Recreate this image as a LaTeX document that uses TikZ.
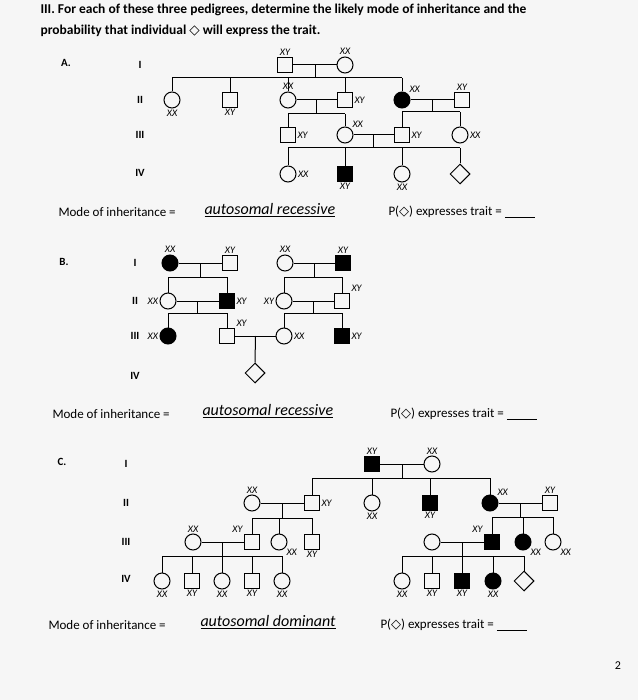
\documentclass[tikz,border=0pt]{standalone}
\usepackage{fontspec}
\setmainfont{Carlito}
\usetikzlibrary{shapes.geometric,calc}
\newcommand\famline[6]{%
 \draw (#1) -- (#2);
 \coordinate (mid) at ($(#1)!0.5!(#2)$);
 \draw (mid) -- (mid |- 0,#3);
 \draw (#4.north |- 0,#3) -- (#5.north |- 0,#3);
 \foreach \c in {#6} \draw (\c.north) -- (\c.north |- 0,#3);
}
\newcommand\dia{{\fontspec{DejaVu Sans}◇}}
\begin{document}
\begin{tikzpicture}[x=1pt,y=-1pt,line width=1pt,
 male/.style={draw,rectangle,minimum size=15pt,inner sep=0pt},
 fem/.style={draw,circle,minimum size=16pt,inner sep=0pt},
 unk/.style={draw,diamond,minimum size=20pt,inner sep=0pt},
 aff/.style={fill=black},
 lab/.style={font=\itshape\fontsize{10}{11}\selectfont,inner sep=1pt},
 gen/.style={font=\bfseries\fontsize{11}{12}\selectfont},
 txt/.style={font=\fontsize{13}{15}\selectfont,anchor=west,inner sep=0pt},
 hand/.style={font=\itshape\fontsize{16}{18}\selectfont,anchor=west,inner sep=0pt}]
\fill[white!93!gray] (0,0) rectangle (638,700);
\useasboundingbox (0,0) rectangle (638,700);
\node[txt,font=\bfseries\fontsize{13.5}{15}\selectfont] (t1) at (40,10) {III. For each of these three pedigrees, determine the likely mode of inheritance and the};
\node[txt,font=\bfseries\fontsize{13.5}{15}\selectfont] (t2) at (40,31) {probability that individual \dia\ will express the trait.};
% ---------- A
\node[gen] (lA) at (66,63) {A.};
\foreach \g/\y in {I/65,II/100,III/135,IV/173} \node[gen] (gA\g) at (140,\y) {\g};
\node[male,label={[lab]above:XY}] (a1) at (285,65) {};
\node[fem,label={[lab]above:XX}] (a2) at (345,65) {};
\node[fem,label={[lab]below:XX}] (a3) at (172,100) {};
\node[male,label={[lab]below:XY}] (a4) at (230,100) {};
\node[fem,label={[lab]above:XX}] (a5) at (288,100) {};
\node[male,label={[lab]right:XY}] (a6) at (345,100) {};
\node[fem,aff,label={[lab]above right:XX}] (a7) at (402,100) {};
\node[male,label={[lab]above:XY}] (a8) at (462,100) {};
\node[male,label={[lab]right:XY}] (a9) at (288,135) {};
\node[fem,label={[lab]above right:XX}] (a10) at (345,135) {};
\node[male,label={[lab]right:XY}] (a11) at (402,135) {};
\node[fem,label={[lab]right:XX}] (a12) at (460,135) {};
\node[fem,label={[lab]right:XX}] (a13) at (288,174) {};
\node[male,aff,label={[lab]below:XY}] (a14) at (345,174) {};
\node[fem,label={[lab]below:XX}] (a15) at (402,174) {};
\node[unk] (a16) at (460,174) {};
\famline{a1}{a2}{78}{a3}{a7}{a3,a4,a5,a6,a7}
\famline{a5}{a6}{114}{a9}{a10}{a9,a10}
\famline{a7}{a8}{112}{a11}{a12}{a11,a12}
\famline{a10}{a11}{148}{a13}{a16}{a13,a14,a15,a16}
\node[txt] (mA) at (58,212) {Mode of inheritance =};
\node[hand] (hA) at (204,210) {\underline{autosomal recessive}};
\node[txt] (pA) at (388,212) {P(\dia) expresses trait = \underline{\hspace{30pt}}};
% ---------- B
\node[gen] (lB) at (64,262) {B.};
\foreach \g/\y in {I/263,II/301,III/336,IV/376} \node[gen] (gB\g) at (135,\y) {\g};
\node[fem,aff,label={[lab]above:XX}] (b1) at (170,263) {};
\node[male,label={[lab]above:XY}] (b2) at (230,263) {};
\node[fem,label={[lab]above:XX}] (b3) at (285,263) {};
\node[male,aff,label={[lab]above:XY}] (b4) at (343,263) {};
\node[fem,label={[lab]left:XX}] (b5) at (168,301) {};
\node[male,aff,label={[lab]right:XY}] (b6) at (227,301) {};
\node[fem,label={[lab]left:XY}] (b7) at (284,301) {};
\node[male,label={[lab]above right:XY}] (b8) at (342,301) {};
\node[fem,aff,label={[lab]left:XX}] (b9) at (168,336) {};
\node[male,label={[lab]above right:XY}] (b10) at (227,336) {};
\node[fem,label={[lab]right:XX}] (b11) at (284,336) {};
\node[male,aff,label={[lab]right:XY}] (b12) at (342,336) {};
\node[unk] (b13) at (255,373) {};
\famline{b1}{b2}{277}{b5}{b6}{b5,b6}
\famline{b3}{b4}{277}{b7}{b8}{b7,b8}
\famline{b5}{b6}{313}{b9}{b10}{b9,b10}
\famline{b7}{b8}{313}{b11}{b12}{b11,b12}
\draw (b10) -- (b11);
\draw ($(b10)!0.5!(b11)$) -- (b13.north);
\node[txt] (mB) at (52,414) {Mode of inheritance =};
\node[hand] (hB) at (202,411) {\underline{autosomal recessive}};
\node[txt] (pB) at (390,414) {P(\dia) expresses trait = \underline{\hspace{30pt}}};
% ---------- C
\node[gen] (lC) at (62,462) {C.};
\foreach \g/\y in {I/464,II/503,III/542,IV/579} \node[gen] (gC\g) at (126,\y) {\g};
\node[male,aff,label={[lab]above:XY}] (c1) at (372,464) {};
\node[fem,label={[lab]above:XX}] (c2) at (432,464) {};
\node[fem,label={[lab]above:XX}] (c3) at (252,503) {};
\node[male,label={[lab]right:XY}] (c4) at (312,503) {};
\node[fem,label={[lab]below:XX}] (c5) at (372,503) {};
\node[male,aff,label={[lab]below:XY}] (c6) at (430,503) {};
\node[fem,aff,label={[lab]above right:XX}] (c7) at (490,503) {};
\node[male,label={[lab]above:XY}] (c8) at (550,503) {};
\node[fem,label={[lab]above:XX}] (c9) at (193,542) {};
\node[male,label={[lab]above left:XY}] (c10) at (252,542) {};
\node[fem,label={[lab]below right:XX}] (c11) at (279,542) {};
\node[male,label={[lab]below:XY}] (c12) at (312,542) {};
\node[fem] (c13) at (432,542) {};
\node[male,aff,label={[lab]above left:XY}] (c14) at (492,542) {};
\node[fem,aff,label={[lab]below right:XX}] (c15) at (523,542) {};
\node[fem,label={[lab]below right:XX}] (c16) at (553,542) {};
\foreach \n/\x/\s/\g in {c17/162/fem/XX,c18/192/male/XY,c19/222/fem/XX,c20/252/male/XY,c21/282/fem/XX}
 \node[\s,label={[lab]below:\g}] (\n) at (\x,581) {};
\node[fem,label={[lab]below:XX}] (c22) at (402,581) {};
\node[male,label={[lab]below:XY}] (c23) at (432,581) {};
\node[male,aff,label={[lab]below:XY}] (c24) at (462,581) {};
\node[fem,aff,label={[lab]below:XX}] (c25) at (493,581) {};
\node[unk] (c26) at (524,581) {};
\famline{c1}{c2}{478}{c4}{c7}{c4,c5,c6,c7}
\famline{c3}{c4}{518}{c10}{c12}{c10,c11,c12}
\famline{c7}{c8}{517}{c14}{c16}{c14,c15,c16}
\famline{c9}{c10}{556}{c17}{c21}{c17,c18,c19,c20,c21}
\famline{c13}{c14}{556}{c22}{c26}{c22,c23,c24,c25,c26}
\node[txt] (mC) at (48,625) {Mode of inheritance =};
\node[hand] (hC) at (200,622) {\underline{autosomal dominant}};
\node[txt] (pC) at (380,625) {P(\dia) expresses trait = \underline{\hspace{30pt}}};
\node[font=\fontsize{12}{14}\selectfont] (pg) at (618,666) {2};
\end{tikzpicture}
\end{document}
